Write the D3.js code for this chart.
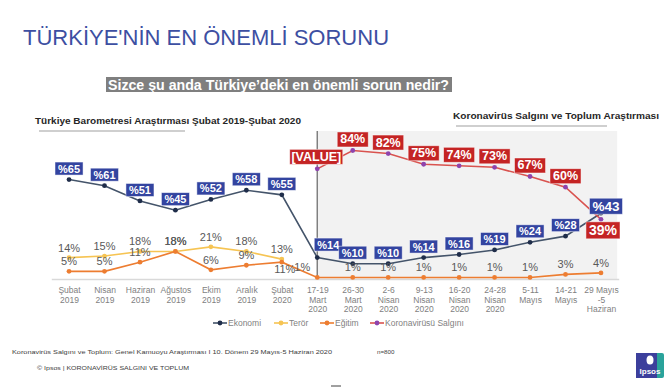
<!DOCTYPE html>
<html>
<head>
<meta charset="utf-8">
<script src="https://cdn.jsdelivr.net/npm/d3@7"></script>
<style>
  html, body { margin: 0; padding: 0; background: #fff; }
  svg text { font-family: "Liberation Sans", Arial, sans-serif; }
</style>
</head>
<body>
<div id="chart"></div>
<script>
///////////////////////////////////////////
// Data
///////////////////////////////////////////
var categories = ["Şubat|2019", "Nisan|2019", "Haziran|2019", "Ağustos|2019", "Ekim|2019", "Aralık|2019", "Şubat|2020",
  "17-19|Mart|2020", "26-30|Mart|2020", "2-6|Nisan|2020", "9-13|Nisan|2020", "16-20|Nisan|2020", "24-28|Nisan|2020",
  "5-11|Mayıs", "14-21|Mayıs", "29 Mayıs|-5|Haziran"];
var ekonomi = [65, 61, 51, 45, 52, 58, 55, 14, 10, 10, 14, 16, 19, 24, 28, 43];
var teror = [14, 15, 18, 18, 21, 18, 13, null, null, null, null, null, null, null, null, null];
var egitim = [5, 5, 11, 18, 6, 9, 11, 1, 1, 1, 1, 1, 1, 1, 3, 4];
var korona = [null, null, null, null, null, null, null, 72, 84, 82, 75, 74, 73, 67, 60, 39];
var koronaLabels = ["", "", "", "", "", "", "", "[VALUE]", "84%", "82%", "75%", "74%", "73%", "67%", "60%", "39%"];
var seriesNames = ["Ekonomi", "Terör", "Eğitim", "Koronavirüsü Salgını"];

///////////////////////////////////////////
// Setup
///////////////////////////////////////////
var width = 672, height = 389;
var svg = d3.select("#chart").append("svg")
  .attr("width", width)
  .attr("height", height);

var x = d3.scalePoint()
  .domain(categories)
  .range([51.3, 618.7])
  .padding(0.5);
var y = d3.scaleLinear()
  .domain([0, 100])
  .range([279, 126]);

var colors = {
  ekoLine: "#44546a", ekoDot: "#1f2d4a", ekoBox: "#3344a0",
  teror: "#f6c453", egitim: "#ed7d31",
  koroLine: "#d9534f", koroDot: "#8e44ad", koroBox: "#c42424"
};

///////////////////////////////////////////
// Headings
///////////////////////////////////////////
svg.append("text")
  .attr("x", 23).attr("y", 45)
  .attr("font-size", 22)
  .attr("fill", "#3d4fa2")
  .text("TÜRKİYE'NİN EN ÖNEMLİ SORUNU");

svg.append("rect")
  .attr("x", 106).attr("y", 77)
  .attr("width", 346).attr("height", 15)
  .attr("fill", "#7f7f7f");
svg.append("text")
  .attr("x", 108).attr("y", 89.5)
  .attr("font-size", 14).attr("font-weight", "bold")
  .attr("fill", "#fff")
  .attr("textLength", 341).attr("lengthAdjust", "spacingAndGlyphs")
  .text("Sizce şu anda Türkiye’deki en önemli sorun nedir?");

svg.append("text")
  .attr("x", 35).attr("y", 124)
  .attr("font-size", 9).attr("font-weight", "bold")
  .attr("fill", "#262626")
  .attr("textLength", 266).attr("lengthAdjust", "spacingAndGlyphs")
  .text("Türkiye  Barometresi Araştırması  Şubat 2019-Şubat 2020");
svg.append("line")
  .attr("x1", 39).attr("x2", 185).attr("y1", 131).attr("y2", 131)
  .attr("stroke", "#bfbfbf").attr("stroke-width", 1.5);

svg.append("text")
  .attr("x", 453).attr("y", 119)
  .attr("font-size", 9).attr("font-weight", "bold")
  .attr("fill", "#262626")
  .attr("textLength", 206).attr("lengthAdjust", "spacingAndGlyphs")
  .text("Koronavirüs Salgını ve Toplum Araştırması");
svg.append("line")
  .attr("x1", 456).attr("x2", 607).attr("y1", 126).attr("y2", 126)
  .attr("stroke", "#bfbfbf").attr("stroke-width", 1.5);

///////////////////////////////////////////
// Background panel + axis
///////////////////////////////////////////
var splitX = x(categories[7]);
svg.append("rect")
  .attr("x", splitX).attr("y", 131)
  .attr("width", x.range()[1] - 1.5 - splitX).attr("height", y(0) - 131)
  .attr("fill", "#f2f2f2");

var axis = svg.append("g")
  .attr("transform", "translate(0," + y(0) + ")")
  .call(d3.axisBottom(x).tickSize(0).tickSizeOuter(0).tickFormat(""));
axis.select(".domain").attr("stroke", "#d9d9d9").attr("stroke-width", 1.5);
axis.selectAll(".tick text").remove();
axis.selectAll(".tick").append("text")
  .attr("fill", "#7f7f7f")
  .attr("font-size", 8.5)
  .attr("text-anchor", "middle")
  .each(function(d) {
    var parts = d.split("|");
    var t = d3.select(this);
    parts.forEach(function(p, i) {
      t.append("tspan").attr("x", 0).attr("y", 14 + i * 9.5).text(p);
    });
  });

svg.append("line")
  .attr("x1", splitX).attr("x2", splitX)
  .attr("y1", 131).attr("y2", y(0))
  .attr("stroke", "#808080").attr("stroke-width", 1.5);

///////////////////////////////////////////
// Lines and markers
///////////////////////////////////////////
function pts(values) {
  return values.map(function(v, i) { return { c: categories[i], v: v, i: i }; })
    .filter(function(d) { return d.v !== null; });
}
var line = d3.line()
  .x(function(d) { return x(d.c); })
  .y(function(d) { return y(d.v); });

function drawSeries(values, lineColor, dotColor) {
  svg.append("path")
    .datum(pts(values))
    .attr("d", line)
    .attr("fill", "none")
    .attr("stroke", lineColor)
    .attr("stroke-width", 1.6);
  svg.append("g").selectAll("circle")
    .data(pts(values))
    .enter().append("circle")
    .attr("cx", function(d) { return x(d.c); })
    .attr("cy", function(d) { return y(d.v); })
    .attr("r", 2.4)
    .attr("fill", dotColor);
}
drawSeries(teror, colors.teror, colors.teror);
drawSeries(egitim, colors.egitim, colors.egitim);
drawSeries(ekonomi, colors.ekoLine, colors.ekoDot);
drawSeries(korona, colors.koroLine, colors.koroDot);

///////////////////////////////////////////
// Labels
///////////////////////////////////////////
function plainLabels(values, offset) {
  svg.append("g").selectAll("text")
    .data(pts(values))
    .enter().append("text")
    .attr("x", function(d) { return x(d.c) + offset(d)[0]; })
    .attr("y", function(d) { return y(d.v) + offset(d)[1]; })
    .attr("text-anchor", "middle")
    .attr("dominant-baseline", "central")
    .attr("font-size", 11)
    .attr("fill", "#595959")
    .text(function(d) { return d.v + "%"; });
}
plainLabels(teror, function(d) { return [0, -10]; });
plainLabels(egitim, function(d) {
  if (d.i === 6) return [3, 7];
  if (d.i === 7) return [-15, -10];
  return [0, -10];
});

function boxLabels(values, textFn, fill, offset, fontFn) {
  var g = svg.append("g").selectAll("g")
    .data(pts(values))
    .enter().append("g")
    .attr("transform", function(d) {
      var o = offset(d);
      return "translate(" + (x(d.c) + o[0]) + "," + (y(d.v) + o[1]) + ")";
    });
  var texts = g.append("text")
    .attr("text-anchor", "middle")
    .attr("dominant-baseline", "central")
    .attr("font-size", fontFn)
    .attr("fill", "#fff")
    .text(textFn);
  g.each(function() {
    var gg = d3.select(this);
    var b = gg.select("text").node().getBBox();
    gg.insert("rect", "text")
      .attr("x", b.x - 3).attr("y", b.y - 0.5)
      .attr("width", b.width + 6).attr("height", b.height + 1)
      .attr("fill", fill)
      .attr("stroke", "#ffffff").attr("stroke-opacity", 0.6).attr("stroke-width", 0.8);
  });
}
boxLabels(ekonomi, function(d) { return "%" + d.v; }, colors.ekoBox, function(d) {
  if (d.i === 7) return [11, -13];
  if (d.i === 15) return [5, -7];
  return [0, -11];
}, function(d) { return d.i === 15 ? 13.5 : 11; });

boxLabels(korona, function(d) { return koronaLabels[d.i]; }, colors.koroBox, function(d) {
  if (d.i === 7) return [-1, -12];
  if (d.i === 15) return [2, 11];
  return [0, -11];
}, function(d) { return d.i === 15 ? 14 : 12.5; });
svg.selectAll("g text").filter(function() { return d3.select(this).attr("fill") === "#fff"; })
  .attr("font-weight", "bold");

///////////////////////////////////////////
// Legend
///////////////////////////////////////////
var legendX = [213, 274, 320, 370];
var legendColors = [[colors.ekoLine, colors.ekoDot], [colors.teror, colors.teror], [colors.egitim, colors.egitim], [colors.koroLine, colors.koroDot]];
var legend = svg.append("g").selectAll("g")
  .data(seriesNames)
  .enter().append("g")
  .attr("transform", function(d, i) { return "translate(" + legendX[i] + ",323)"; });
legend.append("line")
  .attr("x1", 0).attr("x2", 14).attr("y1", 0).attr("y2", 0)
  .attr("stroke", function(d, i) { return legendColors[i][0]; })
  .attr("stroke-width", 1.6);
legend.append("circle")
  .attr("cx", 7).attr("cy", 0).attr("r", 2.4)
  .attr("fill", function(d, i) { return legendColors[i][1]; });
legend.append("text")
  .attr("x", 15).attr("y", 0)
  .attr("dominant-baseline", "central")
  .attr("font-size", 8.5)
  .attr("fill", "#7f7f7f")
  .text(function(d) { return d; });

///////////////////////////////////////////
// Footer
///////////////////////////////////////////
svg.append("text")
  .attr("x", 12).attr("y", 354)
  .attr("font-size", 6.2).attr("fill", "#404040")
  .attr("textLength", 320).attr("lengthAdjust", "spacingAndGlyphs")
  .text("Koronavirüs Salgını ve Toplum: Genel Kamuoyu Araştırması I 10. Dönem 29 Mayıs-5 Haziran 2020");
svg.append("text")
  .attr("x", 377).attr("y", 354)
  .attr("font-size", 6.2).attr("fill", "#404040")
  .text("n=800");
svg.append("text")
  .attr("x", 37).attr("y", 370)
  .attr("font-size", 5).attr("fill", "#404040")
  .attr("textLength", 152).attr("lengthAdjust", "spacingAndGlyphs")
  .text("© Ipsos | KORONAVİRÜS SALGINI VE TOPLUM");

var logo = svg.append("g").attr("transform", "translate(636,353)");
logo.append("rect").attr("width", 28).attr("height", 25).attr("rx", 2).attr("fill", "#2aa39b");
logo.append("rect").attr("width", 21).attr("height", 25).attr("fill", "#3c3f9c");
logo.append("ellipse").attr("cx", 14).attr("cy", 7).attr("rx", 3.5).attr("ry", 4.5).attr("fill", "#fff");
logo.append("text")
  .attr("x", 14).attr("y", 21)
  .attr("text-anchor", "middle")
  .attr("font-size", 8).attr("font-weight", "bold")
  .attr("fill", "#fff")
  .text("Ipsos");

svg.append("line")
  .attr("x1", 331).attr("x2", 341).attr("y1", 386).attr("y2", 386)
  .attr("stroke", "#404040").attr("stroke-width", 1);
</script>
</body>
</html>
